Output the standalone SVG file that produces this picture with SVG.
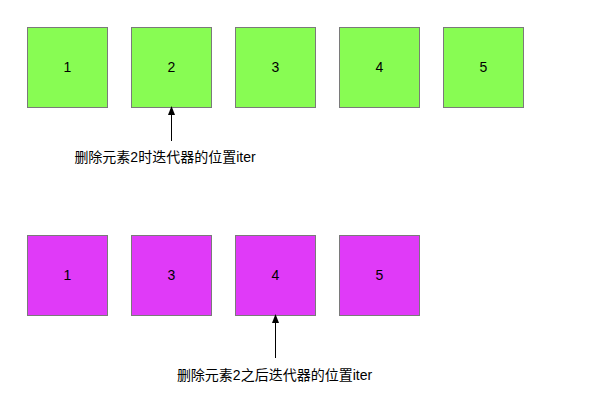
<svg xmlns="http://www.w3.org/2000/svg" width="609" height="404" viewBox="0 0 609 404">
<defs>
<style>
.g{fill:#88fc53;stroke:#7a7a7a;stroke-width:1}
.m{fill:#e03af8;stroke:#7a7a7a;stroke-width:1}
text{font-family:"Liberation Sans","Noto Sans CJK SC",sans-serif;font-size:14px;fill:#000}
.c{text-anchor:middle}
</style>
<marker id="a" markerWidth="10" markerHeight="10" refX="5" refY="5" orient="auto" markerUnits="userSpaceOnUse"><path d="M0,1.5 L9,5 L0,8.5 Z" fill="#000"/></marker>
</defs>
<rect width="609" height="404" fill="#fff"/>
<g id="t1"><rect class="g" x="27.5" y="27.5" width="80" height="80"/><text class="c" x="67.5" y="72">1</text></g>
<g id="t2"><rect class="g" x="131.5" y="27.5" width="80" height="80"/><text class="c" x="171.5" y="72">2</text></g>
<g id="t3"><rect class="g" x="235.5" y="27.5" width="80" height="80"/><text class="c" x="275.5" y="72">3</text></g>
<g id="t4"><rect class="g" x="339.5" y="27.5" width="80" height="80"/><text class="c" x="379.5" y="72">4</text></g>
<g id="t5"><rect class="g" x="443.5" y="27.5" width="80" height="80"/><text class="c" x="483.5" y="72">5</text></g>
<g id="b1"><rect class="m" x="27.5" y="235.5" width="80" height="80"/><text class="c" x="67.5" y="280">1</text></g>
<g id="b3"><rect class="m" x="131.5" y="235.5" width="80" height="80"/><text class="c" x="171.5" y="280">3</text></g>
<g id="b4"><rect class="m" x="235.5" y="235.5" width="80" height="80"/><text class="c" x="275.5" y="280">4</text></g>
<g id="b5"><rect class="m" x="339.5" y="235.5" width="80" height="80"/><text class="c" x="379.5" y="280">5</text></g>
<g id="connectors" stroke="#000" stroke-width="1">
<line x1="171.5" y1="141" x2="171.5" y2="110" marker-end="url(#a)"/>
<line x1="275.5" y1="358" x2="275.5" y2="318" marker-end="url(#a)"/>
</g>
<g id="labels">
<text class="c" x="165" y="162">删除元素2时迭代器的位置iter</text>
<text class="c" x="274.5" y="380">删除元素2之后迭代器的位置iter</text>
</g>
</svg>
